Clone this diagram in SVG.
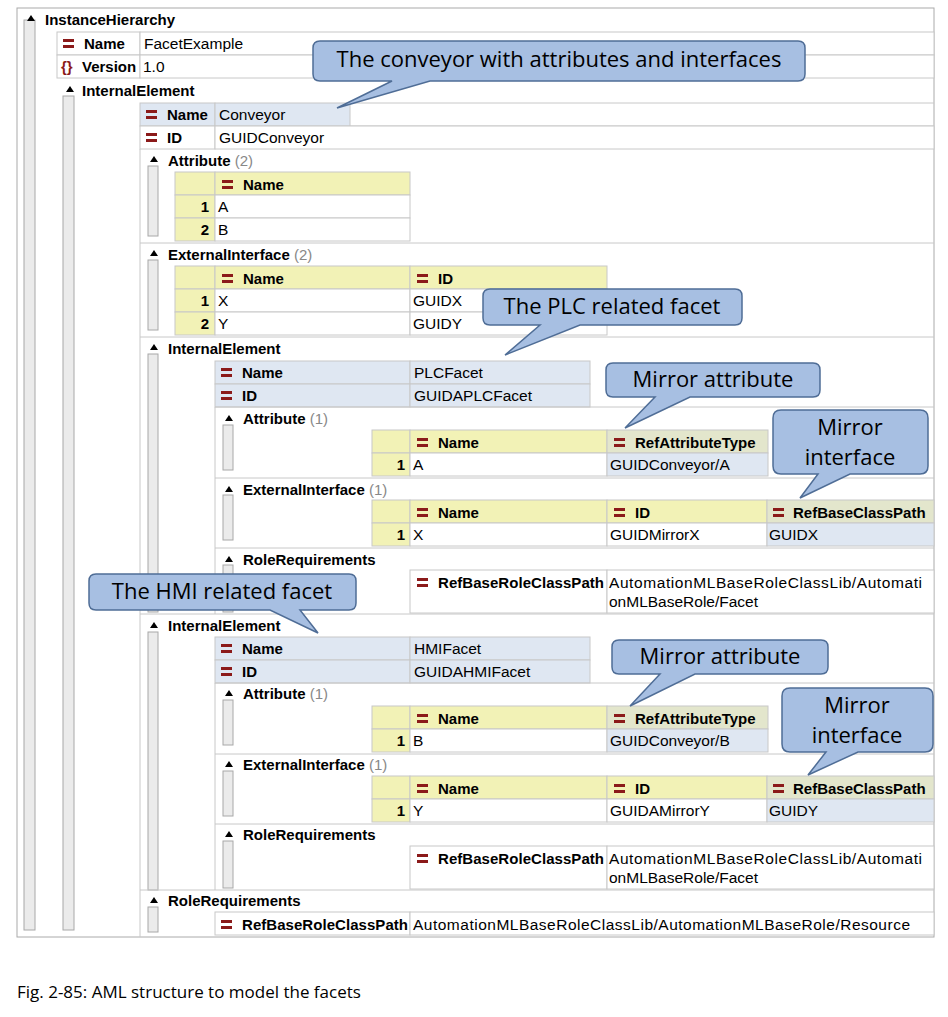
<svg xmlns="http://www.w3.org/2000/svg" xmlns:xlink="http://www.w3.org/1999/xlink" width="948" height="1017" viewBox="0 0 948 1017">
<style>
text{font-family:"Liberation Sans",Arial,sans-serif;font-size:15px;fill:#000}
.b{font-weight:bold}
.v{font-size:15.5px}
.g{fill:#888}
.c{fill:#fff;stroke:#c8c8c8;stroke-width:1}
.y{fill:#f2f2b6;stroke:#c8c8c8;stroke-width:1}
.gy{fill:#e3e6cc;stroke:#c8c8c8;stroke-width:1}
.bl{fill:#dfe7f2;stroke:#c8c8c8;stroke-width:1}
.gut{fill:#ebebeb;stroke:#a8a8a8;stroke-width:1}
.co{fill:#a7bfe2;stroke:#4f6d96;stroke-width:1.5}
.ct{font-family:"Open Sans","Liberation Sans",sans-serif;font-size:22px;fill:#000}
.cap{font-family:"Open Sans","Liberation Sans",sans-serif;font-size:17px}
</style>
<defs>
<symbol id="eq" viewBox="0 0 11 9" width="11" height="9"><rect x="0" y="0" width="11" height="3" fill="#8b1a1a"/><rect x="0" y="6" width="11" height="3" fill="#8b1a1a"/></symbol>
<symbol id="tri" viewBox="0 0 8 6" width="8" height="6"><path d="M0 6L4 0L8 6Z" fill="#000"/></symbol>
</defs>
<rect x="0" y="0" width="948" height="1017" fill="#fff"/>
<rect x="17" y="8" width="917" height="929" fill="#fff" stroke="#aaa"/>
<rect class="gut" x="24" y="20" width="11" height="910"/>
<rect class="gut" x="63" y="96" width="11" height="834"/>
<rect class="gut" x="148" y="166" width="10" height="70"/>
<rect class="gut" x="148" y="260" width="10" height="70"/>
<rect class="gut" x="148" y="354" width="10" height="258"/>
<rect class="gut" x="223" y="425" width="10" height="45"/>
<rect class="gut" x="223" y="495" width="10" height="45"/>
<rect class="gut" x="223" y="565" width="10" height="47"/>
<rect class="gut" x="148" y="632" width="10" height="258"/>
<rect class="gut" x="223" y="700" width="10" height="45"/>
<rect class="gut" x="223" y="771" width="10" height="45"/>
<rect class="gut" x="223" y="841" width="10" height="47"/>
<rect class="gut" x="148" y="907" width="10" height="25"/>

<g id="instancehierarchy">
<use href="#tri" x="27" y="15"/><text class="b" x="45" y="25">InstanceHierarchy</text>
<rect class="c" x="57" y="32" width="83" height="23"/><rect class="c" x="140" y="32" width="794" height="23"/>
<use href="#eq" x="63" y="39"/><text class="b" x="84" y="49">Name</text><text class="v" x="144" y="49">FacetExample</text>
<rect class="c" x="57" y="55" width="83" height="23"/><rect class="c" x="140" y="55" width="794" height="23"/>
<text class="b" x="61" y="72" style="fill:#8b1a1a">{}</text><text class="b" x="82" y="72">Version</text><text class="v" x="143" y="72">1.0</text>
<use href="#tri" x="66" y="86"/><text class="b" x="82" y="96">InternalElement</text>
</g>

<g id="conveyor">
<rect class="bl" x="140" y="103" width="75" height="23"/><rect class="bl" x="215" y="103" width="135" height="23"/>
<line x1="350" y1="103" x2="934" y2="103" stroke="#c8c8c8"/><line x1="350" y1="126" x2="934" y2="126" stroke="#c8c8c8"/>
<use href="#eq" x="146" y="110"/><text class="b" x="167" y="120">Name</text><text class="v" x="219" y="120">Conveyor</text>
<rect class="c" x="140" y="126" width="75" height="23"/><rect class="c" x="215" y="126" width="719" height="23"/>
<use href="#eq" x="146" y="133"/><text class="b" x="167" y="143">ID</text><text class="v" x="219" y="143">GUIDConveyor</text>
<line x1="140" y1="149" x2="140" y2="937" stroke="#c8c8c8"/>
<line x1="140" y1="243" x2="934" y2="243" stroke="#c8c8c8"/>
<line x1="140" y1="337" x2="934" y2="337" stroke="#c8c8c8"/>
<use href="#tri" x="150" y="156"/><text class="b" x="168" y="166">Attribute <tspan class="g" style="font-weight:normal">(2)</tspan></text>
<rect class="y" x="175" y="172" width="40" height="23"/><rect class="y" x="215" y="172" width="195" height="23"/>
<use href="#eq" x="222" y="180"/><text class="b" x="243" y="190">Name</text>
<rect class="y" x="175" y="195" width="40" height="23"/><rect class="c" x="215" y="195" width="195" height="23"/>
<text class="b" x="209" y="212" text-anchor="end">1</text><text class="v" x="218" y="212">A</text>
<rect class="y" x="175" y="218" width="40" height="23"/><rect class="c" x="215" y="218" width="195" height="23"/>
<text class="b" x="209" y="235" text-anchor="end">2</text><text class="v" x="218" y="235">B</text>
<use href="#tri" x="150" y="250"/><text class="b" x="168" y="260">ExternalInterface <tspan class="g" style="font-weight:normal">(2)</tspan></text>
<rect class="y" x="175" y="266" width="40" height="23"/><rect class="y" x="215" y="266" width="195" height="23"/><rect class="y" x="410" y="266" width="197" height="23"/>
<use href="#eq" x="222" y="274"/><text class="b" x="243" y="284">Name</text><use href="#eq" x="417" y="274"/><text class="b" x="438" y="284">ID</text>
<rect class="y" x="175" y="289" width="40" height="23"/><rect class="c" x="215" y="289" width="195" height="23"/><rect class="c" x="410" y="289" width="197" height="23"/>
<text class="b" x="209" y="306" text-anchor="end">1</text><text class="v" x="218" y="306">X</text><text class="v" x="413" y="306">GUIDX</text>
<rect class="y" x="175" y="312" width="40" height="23"/><rect class="c" x="215" y="312" width="195" height="23"/><rect class="c" x="410" y="312" width="197" height="23"/>
<text class="b" x="209" y="329" text-anchor="end">2</text><text class="v" x="218" y="329">Y</text><text class="v" x="413" y="329">GUIDY</text>
</g>

<g id="plcfacet">
<use href="#tri" x="150" y="344"/><text class="b" x="168" y="354">InternalElement</text>
<rect class="bl" x="215" y="361" width="195" height="23"/><rect class="bl" x="410" y="361" width="180" height="23"/>
<use href="#eq" x="221" y="368"/><text class="b" x="242" y="378">Name</text><text class="v" x="414" y="378">PLCFacet</text>
<rect class="bl" x="215" y="384" width="195" height="23"/><rect class="bl" x="410" y="384" width="180" height="23"/>
<use href="#eq" x="221" y="391"/><text class="b" x="242" y="401">ID</text><text class="v" x="414" y="401">GUIDAPLCFacet</text>
<line x1="215" y1="407" x2="934" y2="407" stroke="#c8c8c8"/><line x1="215" y1="407" x2="215" y2="614" stroke="#c8c8c8"/>
<use href="#tri" x="225" y="415"/><text class="b" x="243" y="424">Attribute <tspan class="g" style="font-weight:normal">(1)</tspan></text>
<rect class="y" x="372" y="430" width="38" height="23"/><rect class="y" x="410" y="430" width="197" height="23"/><rect class="gy" x="607" y="430" width="161" height="23"/>
<use href="#eq" x="417" y="438"/><text class="b" x="438" y="448">Name</text><use href="#eq" x="614" y="438"/><text class="b" x="635" y="448">RefAttributeType</text>
<rect class="y" x="372" y="453" width="38" height="23"/><rect class="c" x="410" y="453" width="197" height="23"/><rect class="bl" x="607" y="453" width="161" height="23"/>
<text class="b" x="405" y="470" text-anchor="end">1</text><text class="v" x="413" y="470">A</text><text class="v" x="610" y="470">GUIDConveyor/A</text>
<line x1="215" y1="478" x2="934" y2="478" stroke="#c8c8c8"/>
<use href="#tri" x="225" y="486"/><text class="b" x="243" y="495">ExternalInterface <tspan class="g" style="font-weight:normal">(1)</tspan></text>
<rect class="y" x="372" y="500" width="38" height="23"/><rect class="y" x="410" y="500" width="197" height="23"/><rect class="y" x="607" y="500" width="160" height="23"/><rect class="gy" x="767" y="500" width="167" height="23"/>
<use href="#eq" x="417" y="508"/><text class="b" x="438" y="518">Name</text><use href="#eq" x="614" y="508"/><text class="b" x="635" y="518">ID</text><use href="#eq" x="773" y="508"/><text class="b" x="793" y="518">RefBaseClassPath</text>
<rect class="y" x="372" y="523" width="38" height="23"/><rect class="c" x="410" y="523" width="197" height="23"/><rect class="c" x="607" y="523" width="160" height="23"/><rect class="bl" x="767" y="523" width="167" height="23"/>
<text class="b" x="405" y="540" text-anchor="end">1</text><text class="v" x="413" y="540">X</text><text class="v" x="610" y="540">GUIDMirrorX</text><text class="v" x="769" y="540">GUIDX</text>
<line x1="215" y1="548" x2="934" y2="548" stroke="#c8c8c8"/>
<use href="#tri" x="225" y="556"/><text class="b" x="243" y="565">RoleRequirements</text>
<rect class="c" x="410" y="570" width="197" height="43"/><rect class="c" x="607" y="570" width="327" height="43"/>
<use href="#eq" x="417" y="578"/><text class="b" x="438" y="588" textLength="166">RefBaseRoleClassPath</text>
<text class="v" x="609" y="588" textLength="313">AutomationMLBaseRoleClassLib/Automati</text><text class="v" x="609" y="607">onMLBaseRole/Facet</text>
</g>

<g id="hmifacet">
<line x1="140" y1="614" x2="934" y2="614" stroke="#c8c8c8"/>
<use href="#tri" x="150" y="622"/><text class="b" x="168" y="631">InternalElement</text>
<rect class="bl" x="215" y="637" width="195" height="23"/><rect class="bl" x="410" y="637" width="180" height="23"/>
<use href="#eq" x="221" y="644"/><text class="b" x="242" y="654">Name</text><text class="v" x="414" y="654">HMIFacet</text>
<rect class="bl" x="215" y="660" width="195" height="23"/><rect class="bl" x="410" y="660" width="180" height="23"/>
<use href="#eq" x="221" y="667"/><text class="b" x="242" y="677">ID</text><text class="v" x="414" y="677">GUIDAHMIFacet</text>
<line x1="215" y1="683" x2="934" y2="683" stroke="#c8c8c8"/><line x1="215" y1="683" x2="215" y2="890" stroke="#c8c8c8"/>
<use href="#tri" x="225" y="690"/><text class="b" x="243" y="699">Attribute <tspan class="g" style="font-weight:normal">(1)</tspan></text>
<rect class="y" x="372" y="706" width="38" height="23"/><rect class="y" x="410" y="706" width="197" height="23"/><rect class="gy" x="607" y="706" width="161" height="23"/>
<use href="#eq" x="417" y="714"/><text class="b" x="438" y="724">Name</text><use href="#eq" x="614" y="714"/><text class="b" x="635" y="724">RefAttributeType</text>
<rect class="y" x="372" y="729" width="38" height="23"/><rect class="c" x="410" y="729" width="197" height="23"/><rect class="bl" x="607" y="729" width="161" height="23"/>
<text class="b" x="405" y="746" text-anchor="end">1</text><text class="v" x="413" y="746">B</text><text class="v" x="610" y="746">GUIDConveyor/B</text>
<line x1="215" y1="754" x2="934" y2="754" stroke="#c8c8c8"/>
<use href="#tri" x="225" y="761"/><text class="b" x="243" y="770">ExternalInterface <tspan class="g" style="font-weight:normal">(1)</tspan></text>
<rect class="y" x="372" y="776" width="38" height="23"/><rect class="y" x="410" y="776" width="197" height="23"/><rect class="y" x="607" y="776" width="160" height="23"/><rect class="gy" x="767" y="776" width="167" height="23"/>
<use href="#eq" x="417" y="784"/><text class="b" x="438" y="794">Name</text><use href="#eq" x="614" y="784"/><text class="b" x="635" y="794">ID</text><use href="#eq" x="773" y="784"/><text class="b" x="793" y="794">RefBaseClassPath</text>
<rect class="y" x="372" y="799" width="38" height="23"/><rect class="c" x="410" y="799" width="197" height="23"/><rect class="c" x="607" y="799" width="160" height="23"/><rect class="bl" x="767" y="799" width="167" height="23"/>
<text class="b" x="405" y="816" text-anchor="end">1</text><text class="v" x="413" y="816">Y</text><text class="v" x="610" y="816">GUIDAMirrorY</text><text class="v" x="769" y="816">GUIDY</text>
<line x1="215" y1="824" x2="934" y2="824" stroke="#c8c8c8"/>
<use href="#tri" x="225" y="831"/><text class="b" x="243" y="840">RoleRequirements</text>
<rect class="c" x="410" y="846" width="197" height="43"/><rect class="c" x="607" y="846" width="327" height="43"/>
<use href="#eq" x="417" y="854"/><text class="b" x="438" y="864" textLength="166">RefBaseRoleClassPath</text>
<text class="v" x="609" y="864" textLength="313">AutomationMLBaseRoleClassLib/Automati</text><text class="v" x="609" y="883">onMLBaseRole/Facet</text>
</g>

<g id="rolereq">
<line x1="140" y1="890" x2="934" y2="890" stroke="#c8c8c8"/>
<use href="#tri" x="150" y="897"/><text class="b" x="168" y="906">RoleRequirements</text>
<rect class="c" x="215" y="912" width="195" height="23"/><rect class="c" x="410" y="912" width="524" height="23"/>
<use href="#eq" x="221" y="920"/><text class="b" x="242" y="930" textLength="166">RefBaseRoleClassPath</text>
<text class="v" x="413" y="930" textLength="497">AutomationMLBaseRoleClassLib/AutomationMLBaseRole/Resource</text>
</g>

<g id="callouts">
<path class="co" d="M320 41H798Q805 41 805 48V74Q805 81 798 81H430L337 108L392 81H320Q313 81 313 74V48Q313 41 320 41Z"/>
<text class="ct" x="559" y="67" text-anchor="middle">The conveyor with attributes and interfaces</text>
<path class="co" d="M490 289H735Q742 289 742 296V318Q742 325 735 325H580L505 355L540 325H490Q483 325 483 318V296Q483 289 490 289Z"/>
<text class="ct" x="612" y="314" text-anchor="middle">The PLC related facet</text>
<path class="co" d="M613 363H813Q820 363 820 370V390Q820 397 813 397H690L625 428L655 397H613Q606 397 606 390V370Q606 363 613 363Z"/>
<text class="ct" x="713" y="387" text-anchor="middle">Mirror attribute</text>
<path class="co" d="M781 410H920Q928 410 928 418V466Q928 474 920 474H850L800 498L818 474H781Q773 474 773 466V418Q773 410 781 410Z"/>
<text class="ct" x="850" y="435" text-anchor="middle">Mirror</text><text class="ct" x="850" y="465" text-anchor="middle">interface</text>
<path class="co" d="M96 574H349Q356 574 356 581V603Q356 610 349 610H300L318 633L270 610H96Q89 610 89 603V581Q89 574 96 574Z"/>
<text class="ct" x="222" y="599" text-anchor="middle">The HMI related facet</text>
<path class="co" d="M619 640H821Q828 640 828 647V667Q828 674 821 674H695L630 706L660 674H619Q612 674 612 667V647Q612 640 619 640Z"/>
<text class="ct" x="720" y="664" text-anchor="middle">Mirror attribute</text>
<path class="co" d="M790 688H925Q933 688 933 696V744Q933 752 925 752H858L808 775L826 752H790Q782 752 782 744V696Q782 688 790 688Z"/>
<text class="ct" x="857" y="713" text-anchor="middle">Mirror</text><text class="ct" x="857" y="743" text-anchor="middle">interface</text>
</g>
<text class="cap" x="17" y="998">Fig. 2-85: AML structure to model the facets</text>
</svg>
